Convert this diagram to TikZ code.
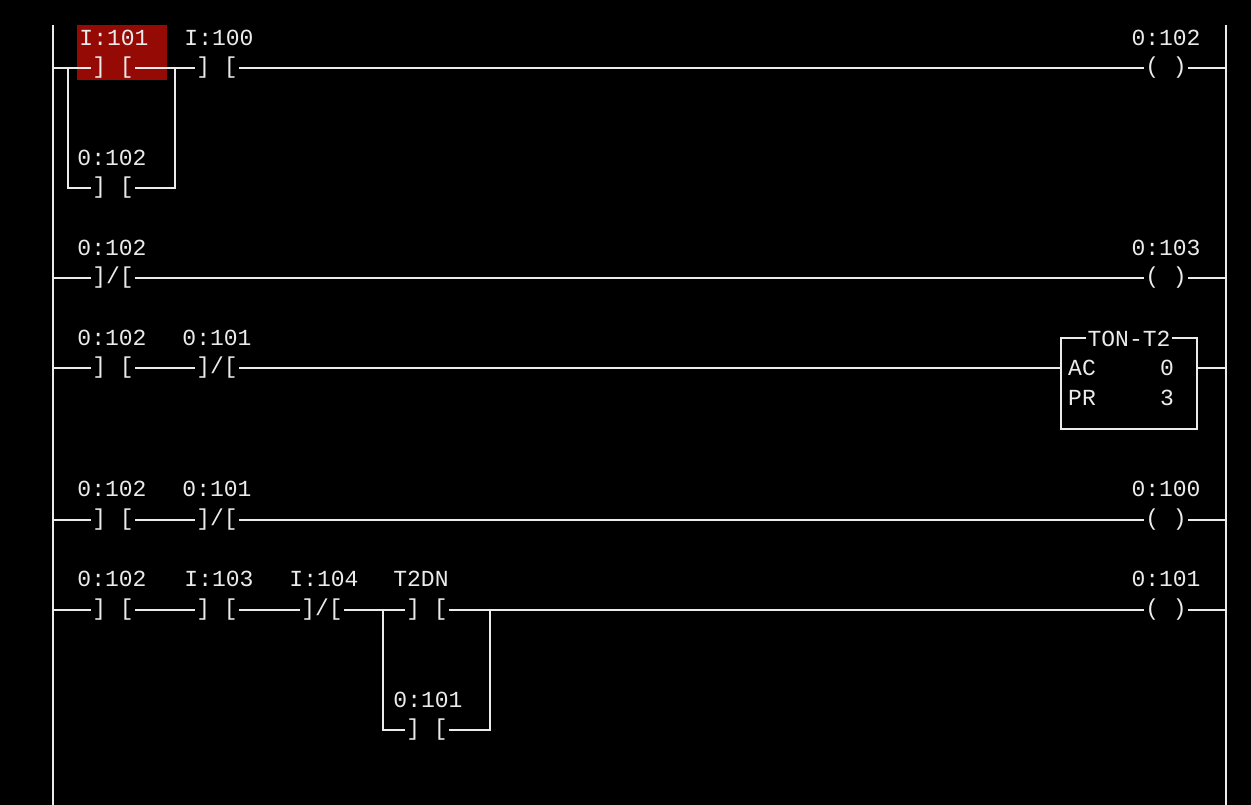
\documentclass[tikz,border=0pt]{standalone}
\usepackage{fontspec}
\setmonofont{Liberation Mono}
\definecolor{fg}{RGB}{235,235,235}
\definecolor{hl}{RGB}{150,10,5}
\begin{document}
\begin{tikzpicture}[x=1pt,y=-1pt,
  wire/.style={draw=fg,line width=2pt},
  txt/.style={text=fg,font=\ttfamily\fontsize{23}{23}\selectfont,inner sep=0pt,anchor=center},
  contact/.style={txt,fill=black,inner xsep=1pt,inner ysep=1pt},
  lbl/.style={txt}]
\fill[black] (0,0) rectangle (1251,805);
\useasboundingbox (0,0) rectangle (1251,805);
\fill[hl] (77,25) rectangle (167,80);
% rails
\coordinate (L1) at (53,25); \coordinate (L2) at (53,805);
\coordinate (R1) at (1226,25); \coordinate (R2) at (1226,805);
\draw[wire] (L1) -- (L2); \draw[wire] (R1) -- (R2);
% rung 1
\coordinate (a1) at (53,68); \coordinate (b1) at (1226,68);
\draw[wire] (a1) -- (b1);
\coordinate (br1) at (68,68); \coordinate (br2) at (68,188);
\coordinate (br3) at (175,188); \coordinate (br4) at (175,68);
\draw[wire] (br1) -- (br2) -- (br3) -- (br4);
\node[contact,fill=hl] (c11) at (113,68) {]\ [};
\node[lbl] (l11) at (114,38) {I:101};
\node[contact] (c12) at (217,68) {]\ [};
\node[lbl] (l12) at (219,38) {I:100};
\node[contact] (k1) at (1166,68) {(\ )};
\node[lbl] (lk1) at (1166,38) {0:102};
\node[contact] (c13) at (113,188) {]\ [};
\node[lbl] (l13) at (112,158) {0:102};
% rung 2
\coordinate (a2) at (53,278); \coordinate (b2) at (1226,278);
\draw[wire] (a2) -- (b2);
\node[contact] (c21) at (113,278) {]/[};
\node[lbl] (l21) at (112,248) {0:102};
\node[contact] (k2) at (1166,278) {(\ )};
\node[lbl] (lk2) at (1166,248) {0:103};
% rung 3
\coordinate (a3) at (53,368); \coordinate (b3) at (1226,368);
\draw[wire] (a3) -- (b3);
\node[contact] (c31) at (113,368) {]\ [};
\node[lbl] (l31) at (112,338) {0:102};
\node[contact] (c32) at (217,368) {]/[};
\node[lbl] (l32) at (217,338) {0:101};
\node[draw=fg,line width=2pt,fill=black,minimum width=136pt,minimum height=91pt,inner sep=0pt] (ton) at (1129,383.5) {};
\node[txt,fill=black,inner xsep=2pt] (tont) at (1129,339) {TON-T2};
\node[txt,anchor=west] (ac) at (1068,368) {AC};
\node[txt] (acv) at (1167,368) {0};
\node[txt,anchor=west] (pr) at (1068,398) {PR};
\node[txt] (prv) at (1167,398) {3};
% rung 4
\coordinate (a4) at (53,520); \coordinate (b4) at (1226,520);
\draw[wire] (a4) -- (b4);
\node[contact] (c41) at (113,520) {]\ [};
\node[lbl] (l41) at (112,489) {0:102};
\node[contact] (c42) at (217,520) {]/[};
\node[lbl] (l42) at (217,489) {0:101};
\node[contact] (k4) at (1166,520) {(\ )};
\node[lbl] (lk4) at (1166,489) {0:100};
% rung 5
\coordinate (a5) at (53,610); \coordinate (b5) at (1226,610);
\draw[wire] (a5) -- (b5);
\coordinate (d1) at (383,610); \coordinate (d2) at (383,730);
\coordinate (d3) at (490,730); \coordinate (d4) at (490,610);
\draw[wire] (d1) -- (d2) -- (d3) -- (d4);
\node[contact] (c51) at (113,610) {]\ [};
\node[lbl] (l51) at (112,579) {0:102};
\node[contact] (c52) at (217,610) {]\ [};
\node[lbl] (l52) at (219,579) {I:103};
\node[contact] (c53) at (322,610) {]/[};
\node[lbl] (l53) at (324,579) {I:104};
\node[contact] (c54) at (427,610) {]\ [};
\node[lbl] (l54) at (421,579) {T2DN};
\node[contact] (c55) at (427,730) {]\ [};
\node[lbl] (l55) at (428,700) {0:101};
\node[contact] (k5) at (1166,610) {(\ )};
\node[lbl] (lk5) at (1166,579) {0:101};
\end{tikzpicture}
\end{document}
